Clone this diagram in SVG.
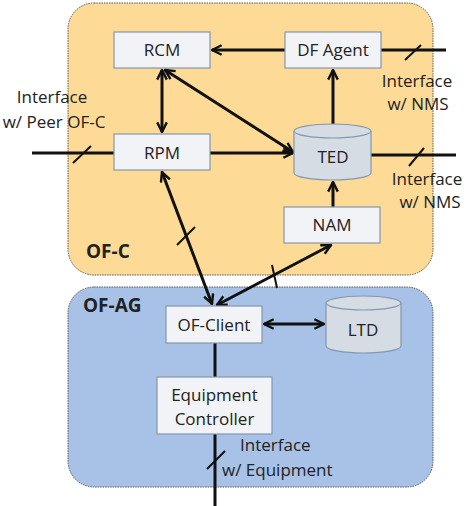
<svg xmlns="http://www.w3.org/2000/svg" width="466" height="506" viewBox="0 0 466 506">
<style>
.t{font-family:"Open Sans","Liberation Sans",sans-serif;font-size:17px;fill:#222;}
.b{font-family:"Open Sans","Liberation Sans",sans-serif;font-size:19px;font-weight:bold;fill:#222;}
.box{fill:#F2F3F6;stroke:#8497B0;stroke-width:1.2;}
.cyl{fill:#D6DCE4;stroke:#8497B0;stroke-width:1.2;}
.ln{stroke:#111;stroke-width:3;fill:none;}
.sl{stroke:#111;stroke-width:2;fill:none;}
</style>
<defs>
<marker id="ah" viewBox="0 0 10 10" refX="9" refY="5" markerWidth="4" markerHeight="4" orient="auto-start-reverse" markerUnits="strokeWidth">
<path d="M1,1 L9,5 L1,9" fill="none" stroke="#111" stroke-width="2"/>
</marker>
</defs>
<g id="OF-C">
<rect x="68" y="3" width="365" height="272" rx="26" fill="#FDDA95" stroke="#555" stroke-width="1" stroke-dasharray="1.5,1"/>
<text class="b" x="86" y="258">OF-C</text>
</g>
<g id="OF-AG">
<rect x="68" y="287" width="365" height="200" rx="26" fill="#A8C1E6" stroke="#555" stroke-width="1" stroke-dasharray="1.5,1"/>
<text class="b" x="83" y="312">OF-AG</text>
</g>
<g id="connectors">
<line class="ln" x1="285" y1="50" x2="212" y2="50" marker-end="url(#ah)"/>
<line class="ln" x1="381" y1="50" x2="446" y2="50"/>
<line class="sl" x1="405" y1="60" x2="421" y2="45"/>
<line class="ln" x1="162" y1="70" x2="162" y2="132" marker-start="url(#ah)" marker-end="url(#ah)"/>
<line class="ln" x1="165" y1="70" x2="293" y2="152" marker-start="url(#ah)" marker-end="url(#ah)"/>
<line class="ln" x1="210" y1="153" x2="293" y2="153" marker-end="url(#ah)"/>
<line class="ln" x1="32" y1="153" x2="114" y2="153"/>
<line class="sl" x1="73" y1="163" x2="91" y2="146"/>
<line class="ln" x1="371" y1="155" x2="456" y2="155"/>
<line class="sl" x1="409" y1="166" x2="424" y2="148"/>
<line class="ln" x1="333" y1="124" x2="333" y2="70" marker-end="url(#ah)"/>
<line class="ln" x1="333" y1="207" x2="333" y2="182" marker-end="url(#ah)"/>
<line class="ln" x1="162" y1="172" x2="212" y2="304" marker-start="url(#ah)" marker-end="url(#ah)"/>
<line class="sl" x1="177" y1="245" x2="195" y2="227"/>
<line class="ln" x1="331" y1="245" x2="217" y2="305" marker-start="url(#ah)" marker-end="url(#ah)"/>
<line class="sl" x1="272" y1="265" x2="277" y2="288"/>
<line class="ln" x1="264" y1="324" x2="324" y2="324" marker-start="url(#ah)" marker-end="url(#ah)"/>
<line class="ln" x1="215" y1="343" x2="215" y2="377"/>
<line class="ln" x1="215" y1="434" x2="215" y2="506"/>
<line class="sl" x1="207" y1="469" x2="225" y2="451"/>
</g>
<g id="RCM"><rect class="box" x="114" y="32" width="96" height="36"/><text class="t" x="162" y="56" text-anchor="middle">RCM</text></g>
<g id="DFAgent"><rect class="box" x="285" y="32" width="96" height="36"/><text class="t" x="333" y="56" text-anchor="middle">DF Agent</text></g>
<g id="RPM"><rect class="box" x="114" y="134" width="96" height="36"/><text class="t" x="162" y="159" text-anchor="middle">RPM</text></g>
<g id="TED">
<path class="cyl" d="M294,131 L294,173 A38.5,7 0 0 0 371,173 L371,131"/>
<ellipse class="cyl" cx="332.5" cy="131" rx="38.5" ry="7"/>
<text class="t" x="333" y="163" text-anchor="middle">TED</text>
</g>
<g id="NAM"><rect class="box" x="284" y="207" width="96" height="36"/><text class="t" x="332" y="231" text-anchor="middle">NAM</text></g>
<g id="OF-Client"><rect class="box" x="166" y="306" width="96" height="37"/><text class="t" x="214" y="331" text-anchor="middle">OF-Client</text></g>
<g id="LTD">
<path class="cyl" d="M326,303 L326,346 A37.5,7 0 0 0 401,346 L401,303"/>
<ellipse class="cyl" cx="363.5" cy="303" rx="37.5" ry="7"/>
<text class="t" x="363" y="336" text-anchor="middle">LTD</text>
</g>
<g id="EquipmentController"><rect class="box" x="157" y="377" width="115" height="57"/>
<text class="t" x="214.5" y="401" text-anchor="middle">Equipment</text>
<text class="t" x="214.5" y="425" text-anchor="middle">Controller</text></g>
<g id="labels">
<text class="t" x="52" y="103" text-anchor="middle">Interface</text>
<text class="t" x="54" y="128" text-anchor="middle">w/ Peer OF-C</text>
<text class="t" x="417" y="87" text-anchor="middle">Interface</text>
<text class="t" x="418" y="110" text-anchor="middle">w/ NMS</text>
<text class="t" x="427" y="185" text-anchor="middle">Interface</text>
<text class="t" x="430" y="208" text-anchor="middle">w/ NMS</text>
<text class="t" x="240" y="451">Interface</text>
<text class="t" x="222" y="476">w/ Equipment</text>
</g>
</svg>
